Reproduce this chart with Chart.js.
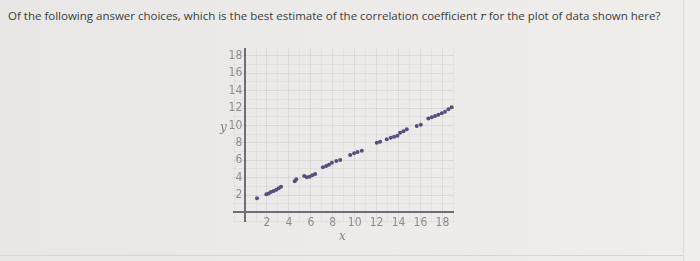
<!DOCTYPE html>
<html>
<head>
<meta charset="utf-8">
<script src="https://cdn.jsdelivr.net/npm/chart.js@4.4.1/dist/chart.umd.min.js"></script>
<style>
    html, body { margin: 0; padding: 0; }
    body {
        width: 700px; height: 261px; overflow: hidden; position: relative;
        background: linear-gradient(90deg, #e8e7e5 0%, #ecebe9 50%, #efeeeb 100%);
        font-family: "Open Sans", sans-serif;
    }
    #question {
        position: absolute; left: 8px; top: 8px; white-space: nowrap;
        font-size: 11.5px; color: #3c3c3c;
    }
    #question i { font-family: "DejaVu Serif", serif; }
    #wrap { position: absolute; left: 0; top: 0; width: 700px; height: 261px; }
    .axis-title {
        position: absolute; font-family: "DejaVu Serif", serif; font-style: italic;
        font-size: 12px; color: #7e7e84;
    }
    #vline { position: absolute; left: 683px; top: 0; width: 1px; height: 261px; background: #dcdbd8; }
    #hline { position: absolute; left: 0; top: 255px; width: 683px; height: 1px; background: #d6d5d2; }
</style>
</head>
<body>
<div id="question">Of the following answer choices, which is the best estimate of the correlation coefficient <i>r</i> for the plot of data shown here?</div>
<div id="vline"></div>
<div id="hline"></div>
<div id="wrap"><canvas id="chart" width="700" height="261"></canvas></div>
<span class="axis-title" style="left:220px; top:120px">y</span>
<span class="axis-title" style="left:339px; top:229px">x</span>
<script>
// Scatter data
const xValues = [1.09, 1.94, 2.15, 2.36, 2.61, 2.85, 3.07, 3.28, 4.53, 4.67,
    5.40, 5.64, 5.89, 6.13, 6.40, 7.10, 7.40, 7.65, 7.92, 8.32, 8.68,
    9.59, 9.95, 10.26, 10.65, 12.02, 12.32, 12.93, 13.29, 13.60, 13.90,
    14.14, 14.45, 14.75, 15.66, 16.03, 16.72, 17.03, 17.33, 17.63, 17.94,
    18.24, 18.55, 18.85];
const yValues = [1.62, 2.08, 2.19, 2.35, 2.46, 2.61, 2.77, 2.96, 3.57, 3.80,
    4.18, 4.03, 4.11, 4.26, 4.41, 5.18, 5.33, 5.48, 5.72, 5.91, 6.03,
    6.60, 6.79, 6.94, 7.10, 8.02, 8.13, 8.40, 8.59, 8.71, 8.82,
    9.17, 9.32, 9.55, 9.93, 10.08, 10.81, 10.93, 11.08, 11.23, 11.39,
    11.58, 11.85, 12.08];
const xTickLabels = [2, 4, 6, 8, 10, 12, 14, 16, 18];
const yTickLabels = [2, 4, 6, 8, 10, 12, 14, 16, 18];

const points = xValues.map((x, i) => ({ x, y: yValues[i] }));

const axisColor = '#6e6e78';
const tickColor = '#8c8c8c';
const gridColor = ctx => {
    const v = ctx.tick && ctx.tick.value;
    if (v === 0) return axisColor;
    return v % 2 === 0 ? 'rgba(0,0,0,0.07)' : 'rgba(0,0,0,0.035)';
};
const gridWidth = ctx => (ctx.tick && ctx.tick.value === 0) ? 2 : 1;
// one grid line per whole unit, labels only on the even ones
const unitTicks = scale => {
    const ticks = [];
    for (let v = Math.ceil(scale.min); v <= Math.floor(scale.max); v++) ticks.push({ value: v });
    scale.ticks = ticks;
};
const tickFont = { family: '"DejaVu Sans Condensed", "DejaVu Sans"', size: 12 };

new Chart(document.getElementById('chart'), {
    type: 'scatter',
    data: {
        datasets: [{
            data: points,
            backgroundColor: '#5a4c7c',
            borderColor: '#5a4c7c',
            pointRadius: 2,
            pointBorderWidth: 0,
        }]
    },
    options: {
        responsive: false,
        animation: false,
        events: [],
        layout: { padding: { left: 233, right: 246, top: 48, bottom: 39 } },
        plugins: { legend: { display: false }, tooltip: { enabled: false } },
        scales: {
            x: {
                type: 'linear', min: -1.1, max: 19.06,
                position: { y: 0 },
                border: { display: false },
                grid: { color: gridColor, lineWidth: gridWidth, drawTicks: false },
                afterBuildTicks: unitTicks,
                ticks: {
                    padding: 3, color: tickColor, font: tickFont,
                    maxRotation: 0, autoSkip: false,
                    callback: v => xTickLabels.includes(v) ? String(v) : ''
                }
            },
            y: {
                type: 'linear', min: -1.1, max: 18.9,
                // labels sit just left of the x = 0 axis line
                position: { x: -0.25 },
                border: { display: false },
                grid: { color: gridColor, lineWidth: gridWidth, drawTicks: false },
                afterBuildTicks: unitTicks,
                ticks: {
                    color: tickColor, font: tickFont,
                    autoSkip: false,
                    callback: v => yTickLabels.includes(v) ? String(v) : ''
                }
            }
        }
    }
});
</script>
</body>
</html>
